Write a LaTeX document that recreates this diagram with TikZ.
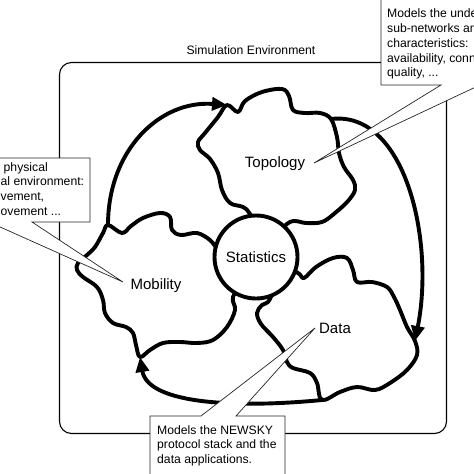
\documentclass[tikz,border=0pt]{standalone}
\usepackage{fontspec}
\setmainfont{Liberation Sans}
\usepackage{tikz}
\usetikzlibrary{calc,arrows.meta}
\tikzset{
  % Styles for the parts, the cycle and the notes
  blob/.style={line width=3.9pt,line join=round},
  stats node/.style={circle,draw,line width=3.9pt,fill=white,minimum size=83pt,inner sep=0},
  part label/.style={inner sep=0,font=\fontsize{15}{18}\selectfont},
  cycle arrow/.style={line width=3.9pt,-{Triangle[length=15pt,width=13pt]}},
  env box/.style={rectangle,draw,line width=1.1pt,rounded corners=12pt,minimum width=387pt,minimum height=371pt,inner sep=0},
  balloon/.style={draw=black!85,fill=white,line width=0.7pt,line join=miter},
  note/.style={align=left,inner sep=0,font=\fontsize{12.2}{14.8}\selectfont}
}

\begin{document}
\begin{tikzpicture}[x=1pt,y=-1pt]
  \useasboundingbox (0,0) rectangle (474,474);
  % Environment frame
  \node(env)[env box] at (253,248) {};
  \node(title)[inner sep=0,font=\fontsize{12.2}{15}\selectfont] at (251,50) {Simulation Environment};
  % Junctions of the cycle
  \coordinate (mob top) at (108,225);
  \coordinate (topo left) at (227,105);
  \coordinate (topo right) at (331,119);
  \coordinate (data right) at (415,341);
  \coordinate (data bottom) at (322,400);
  \coordinate (mob bottom) at (140,357);
  % The parts
  \draw[blob] plot[smooth cycle,tension=0.6] coordinates {(topo left) (238,112) (245,101) (262,92) (282,89) (289,96) (293,110) (305,113) (320,113) (topo right) (337,137) (339,153) (344,167) (353,180) (355,190) (348,201) (335,213) (322,222) (306,223) (290,222) (266,240) (250,214) (243,207) (230,203) (222,190) (218,173) (210,159) (200,150) (198,142) (205,133) (218,117)};
  \draw[blob] plot[smooth cycle,tension=0.6] coordinates {(mob top) (122,233) (131,226) (143,218) (160,213) (170,217) (172,230) (181,235) (197,233) (210,240) (217,248) (244,275) (233,297) (235,310) (227,327) (213,340) (197,343) (180,342) (163,343) (150,350) (mob bottom) (136,345) (133,333) (126,327) (113,323) (105,313) (103,300) (97,287) (83,277) (77,270) (78,263) (87,255) (95,247) (103,233)};
  \draw[blob] plot[smooth cycle,tension=0.6] coordinates {(282,268) (298,273) (304,278) (316,267) (333,258) (347,258) (353,270) (357,282) (372,282) (387,287) (394,297) (400,310) (407,327) (data right) (417,355) (407,370) (390,383) (375,390) (357,387) (340,392) (data bottom) (317,383) (310,373) (293,368) (287,362) (283,350) (273,337) (261,324) (257,313) (262,305) (270,299)};
  % The cycle
  \draw[cycle arrow] (mob top) .. controls (108,150) and (160,100) .. (topo left);
  \draw[cycle arrow] (topo right) .. controls (405,110) and (435,240) .. (data right);
  \draw[cycle arrow] (data bottom) .. controls (240,408) and (148,405) .. (mob bottom);
  % Statistics in the middle
  \node(stats)[stats node] at (256,257) {\fontsize{15}{18}\selectfont Statistics};
  \node(topo)[part label,anchor=base] at (275,167) {Topology};
  \node(mob)[part label,anchor=base] at (156,289) {Mobility};
  \node(data)[part label,anchor=base] at (335,333) {Data};
  % Notes
  \coordinate (topo tip) at (314,163);
  \coordinate (mob tip) at (123,282);
  \coordinate (data tip) at (315,328);
  \draw[balloon] (441,85) -- (topo tip) -- (480,85) -- (500,85) -- (500,-5) -- (381,-5) -- (381,85) -- cycle;
  \node(topo note)[note,anchor=north west] at (387,8.6) {Models the unde\\sub-networks an\\characteristics:\\availability, conn\\quality, ...};
  \draw[balloon] (90,222) -- (32,222) -- (mob tip) -- (-11,222) -- (-20,222) -- (-20,158) -- (90,158) -- cycle;
  \node(mob note)[note,anchor=north west] at (0.5,162) {\hspace*{3pt}physical\\al environment:\\vement,\\ovement ...};
  \draw[balloon] (150,416) -- (201,416) -- (data tip) -- (236,416) -- (285,416) -- (285,480) -- (150,480) -- cycle;
  \node(data note)[note,anchor=north west] at (157,425) {Models the NEWSKY\\protocol stack and the\\data applications.};
\end{tikzpicture}
\end{document}
